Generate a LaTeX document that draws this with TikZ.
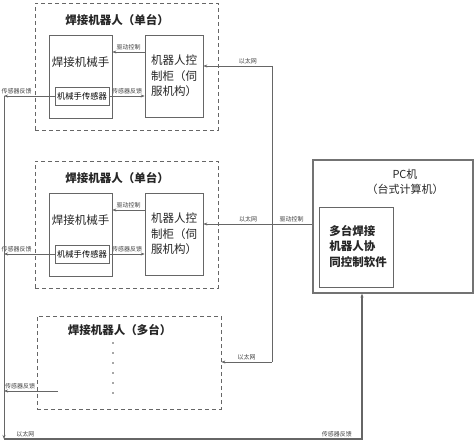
\documentclass[tikz,border=0pt]{standalone}
\usepackage{fontspec}
\setmainfont{Noto Sans CJK SC}
\usetikzlibrary{arrows.meta}

\begin{document}
\begin{tikzpicture}[x=1pt, y=-1pt, >={Stealth[length=4pt,width=3pt]},
	line/.style={draw=black!60, line width=0.6pt},
	group box/.style={draw=black!60, dash pattern=on 4pt off 3pt, line width=0.8pt, minimum width=183pt, minimum height=127pt},
	unit box/.style={draw=black!60, line width=0.7pt, inner sep=0pt},
	title/.style={font=\fontsize{11.5}{14}\selectfont\bfseries, text=black!85},
	big/.style={font=\fontsize{11.5}{15.5}\selectfont, align=center, text=black!85},
	tag/.style={font=\fontsize{6}{7}\selectfont, text=black!75, inner sep=1.5pt}]

	\useasboundingbox (0,0) rectangle (474,441);

	\coordinate (fb-top) at (4,96);
	\coordinate (fb-corner) at (4,439);
	\coordinate (pc-feed) at (362,439);
	\coordinate (bus-top) at (272,66);
	\coordinate (bus-bot) at (272,362);

	\foreach \i/\o in {1/0, 2/158}
	{
		\node [group box] (group-\i) at (126.5,66.5+\o) {};
		\node [title] (title-\i) at (117,20+\o) {焊接机器人（单台）};
		\node [unit box, minimum width=63pt, minimum height=83pt] (arm-\i) at (80.5,76.5+\o) {};
		\node [big] (arm-label-\i) at (80.5,62+\o) {焊接机械手};
		\node [unit box, minimum width=54pt, minimum height=18pt, font=\fontsize{8.3}{10}\selectfont] (sens-\i) at (82,96+\o) {机械手传感器};
		\node [unit box, minimum width=58pt, minimum height=82pt, big] (ctrl-\i) at (174,76+\o) {机器人控\\制柜（伺\\服机构）};
		\coordinate (drive-\i) at (0,52+\o);

		\draw [line, ->] (ctrl-\i.west |- drive-\i) -- (arm-\i.east |- drive-\i)
		node [tag, above, midway] {驱动控制};
		\draw [line, ->] (sens-\i.east) -- (sens-\i.east -| ctrl-\i.west)
		node [tag, above, midway] {传感器反馈};
		\draw [line, ->] (sens-\i.west) -- (sens-\i.west -| fb-top)
		node [tag, above, pos=0.75] {传感器反馈};
	}

	\node [group box, minimum width=184pt, minimum height=93pt] (group-3) at (129,362.5) {};
	\node [title] (title-3) at (119.5,330) {焊接机器人（多台）};
	\foreach \k in {0,...,5}
	\fill [black!70] (113,343+10*\k) circle (0.8);
	\coordinate (sens-3) at (58,391);
	\draw [line, ->] (sens-3) -- (sens-3 -| fb-top)
	node [tag, above, pos=0.7] {传感器反馈};

	\node [draw=black!55, line width=1.2pt, minimum width=160pt, minimum height=133pt] (pc) at (393,226.5) {};
	\node [big, font=\fontsize{11}{15}\selectfont] (pc-label) at (405,182) {PC机\\（台式计算机）};
	\node [unit box, minimum width=74pt, minimum height=80pt] (soft) at (356,247) {};
	\node [title, align=left, font=\fontsize{11.5}{15.5}\selectfont\bfseries] (soft-label) at (358,246.5) {多台焊接\\机器人协\\同控制软件};
	\coordinate (pc-link) at ([yshift=2.5pt]pc.west);

	\draw [line] (bus-top) -- (bus-bot);
	\draw [line, ->] (bus-top) -- (bus-top -| ctrl-1.east)
	node [tag, above, pos=0.35] {以太网};
	\draw [line, ->] (pc-link) -- (pc-link -| ctrl-2.east)
	node [tag, above, pos=0.19] {驱动控制}
	node [tag, above, pos=0.59] {以太网};
	\draw [line, ->] (bus-bot) -- (bus-bot -| group-3.east)
	node [tag, above, midway] {以太网};

	\draw [line, ->] (fb-top) -- (fb-corner);
	\draw [line, line width=1.5pt, ->] (fb-corner) --
	node [tag, above, pos=0.06] {以太网}
	node [tag, above, pos=0.93] {传感器反馈} (pc-feed) -- (pc-feed |- pc.south);
\end{tikzpicture}
\end{document}
